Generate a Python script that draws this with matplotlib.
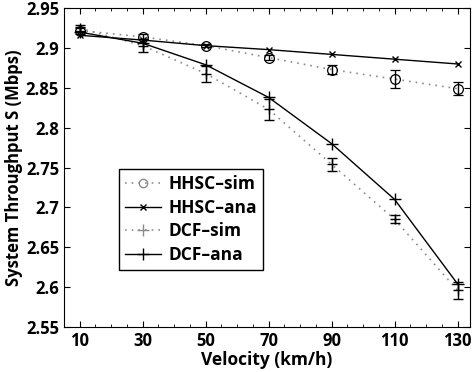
import matplotlib
matplotlib.use("Agg")
import matplotlib.pyplot as plt
from matplotlib.ticker import MultipleLocator
from matplotlib.lines import Line2D

velocity = [10, 30, 50, 70, 90, 110, 130]
hhsc_sim = [2.922, 2.914, 2.903, 2.888, 2.873, 2.861, 2.849]
hhsc_sim_err = [0.004, 0.003, 0.002, 0.003, 0.006, 0.011, 0.008]
hhsc_ana = [2.916, 2.910, 2.903, 2.898, 2.892, 2.886, 2.880]
dcf_sim = [2.925, 2.903, 2.868, 2.823, 2.754, 2.685, 2.596]
dcf_sim_err = [0.004, 0.008, 0.010, 0.013, 0.008, 0.005, 0.011]
dcf_ana = [2.920, 2.906, 2.879, 2.838, 2.780, 2.710, 2.604]
labels = ['HHSC\u2013sim', 'HHSC\u2013ana', 'DCF\u2013sim', 'DCF\u2013ana']

plt.rcParams['font.family'] = ['Open Sans', 'DejaVu Sans']
plt.rcParams['font.weight'] = 'bold'

fig = plt.figure(figsize=(4.74, 3.72), dpi=100)
ax = fig.add_axes([0.135, 0.121, 0.857, 0.857])

dot_color = '0.55'
# HHSC-sim
ax.plot(velocity, hhsc_sim, color=dot_color, linestyle=(0, (1, 3)), linewidth=1.2)
ax.errorbar(velocity, hhsc_sim, yerr=hhsc_sim_err, color='black', linestyle='none',
            marker='o', markersize=7, markerfacecolor='none', markeredgewidth=0.9,
            capsize=3.5, elinewidth=1.0)
# HHSC-ana
ax.plot(velocity, hhsc_ana, color='black', linestyle='-', marker='x', markersize=5,
        linewidth=1.0)
# DCF-sim
ax.plot(velocity, dcf_sim, color=dot_color, linestyle=(0, (1, 3)), linewidth=1.2)
ax.errorbar(velocity, dcf_sim, yerr=dcf_sim_err, color='black', linestyle='none',
            marker='+', markersize=7, capsize=3.5, elinewidth=1.0)
# DCF-ana
ax.plot(velocity, dcf_ana, color='black', linestyle='-', marker='+', markersize=9,
        linewidth=1.0)

ax.set_xlim(5, 134)
ax.set_ylim(2.55, 2.95)
ax.set_xticks(velocity)
ax.set_yticks([2.55, 2.6, 2.65, 2.7, 2.75, 2.8, 2.85, 2.9, 2.95])
ax.set_yticklabels(['2.55', '2.6', '2.65', '2.7', '2.75', '2.8', '2.85', '2.9', '2.95'])
ax.xaxis.set_minor_locator(MultipleLocator(5))
ax.tick_params(which='both', direction='in', top=True, right=True, labelsize=12)
ax.tick_params(which='major', length=4)
ax.tick_params(which='minor', length=2)
for lab in ax.get_xticklabels() + ax.get_yticklabels():
    lab.set_fontweight('bold')

ax.set_xlabel('Velocity (km/h)', fontsize=12.5, fontweight='bold', labelpad=1)
ax.set_ylabel('System Throughput S (Mbps)', fontsize=12, fontweight='bold', labelpad=2)

handles = [
    Line2D([], [], color=dot_color, linestyle=(0, (1, 3)), linewidth=1.2, marker='o',
           markersize=6, markerfacecolor='none', markeredgecolor=dot_color),
    Line2D([], [], color='black', linestyle='-', linewidth=1.0, marker='x', markersize=5),
    Line2D([], [], color=dot_color, linestyle=(0, (1, 3)), linewidth=1.2, marker='+',
           markersize=8, markeredgecolor=dot_color),
    Line2D([], [], color='black', linestyle='-', linewidth=1.0, marker='+', markersize=9),
]
leg = ax.legend(handles, labels, loc='lower left', bbox_to_anchor=(0.135, 0.179),
                borderaxespad=0, fancybox=False, edgecolor='black', framealpha=1,
                prop={'size': 12.5, 'weight': 'bold'},
                handlelength=2.1, borderpad=0.35, labelspacing=0.32, handletextpad=0.4)
leg.get_frame().set_linewidth(1.0)

fig.savefig('out.png', dpi=100)
